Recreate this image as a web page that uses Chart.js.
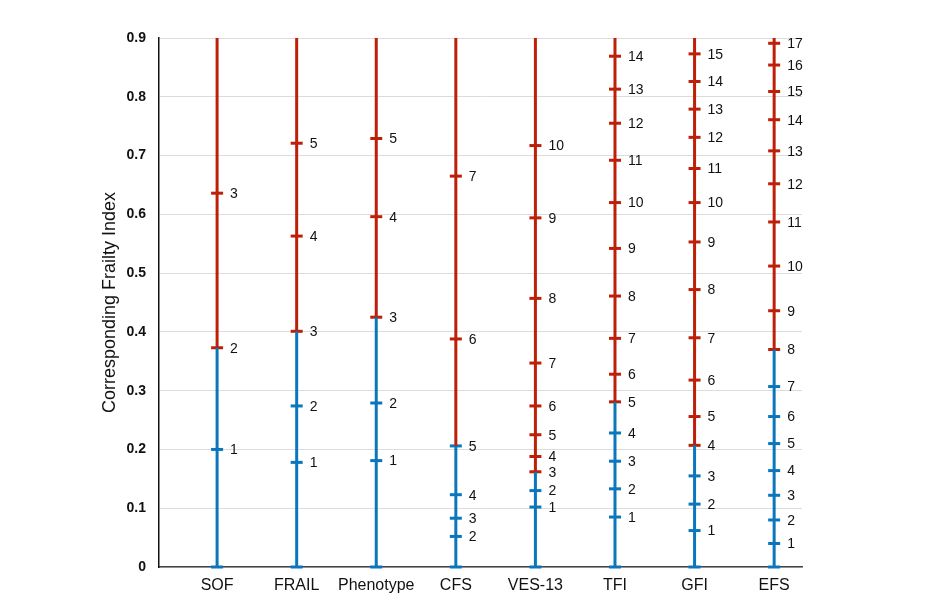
<!DOCTYPE html>
<html>
<head>
<meta charset="utf-8">
<script src="https://cdn.jsdelivr.net/npm/chart.js@4.4.0/dist/chart.umd.min.js"></script>
<style>
  html, body { margin: 0; padding: 0; background: #fff; }
  #wrap { width: 936px; height: 600px; }
</style>
</head>
<body>
<div id="wrap"><canvas id="chart" width="936" height="600"></canvas></div>
<script>
const categories = ['SOF', 'FRAIL', 'Phenotype', 'CFS', 'VES-13', 'TFI', 'GFI', 'EFS'];

// frailty index value for each score, listed from the first labelled score up
const firstScore = [1, 1, 1, 2, 1, 1, 1, 1];
const sofValues = [0.200, 0.373, 0.636];
const frailValues = [0.178, 0.274, 0.401, 0.563, 0.721];
const phenotypeValues = [0.181, 0.279, 0.425, 0.596, 0.729];
const cfsValues = [0.052, 0.083, 0.123, 0.206, 0.388, 0.665];
const ves13Values = [0.102, 0.130, 0.162, 0.188, 0.225, 0.274, 0.347, 0.457, 0.594, 0.717];
const tfiValues = [0.085, 0.133, 0.180, 0.228, 0.281, 0.328, 0.389, 0.461, 0.542, 0.620, 0.692, 0.755, 0.813, 0.869];
const gfiValues = [0.062, 0.107, 0.155, 0.207, 0.256, 0.318, 0.390, 0.472, 0.553, 0.620, 0.678, 0.731, 0.779, 0.826, 0.873];
const efsValues = [0.040, 0.080, 0.122, 0.164, 0.210, 0.256, 0.307, 0.370, 0.436, 0.512, 0.587, 0.652, 0.708, 0.761, 0.809, 0.854, 0.891];
const allValues = [sofValues, frailValues, phenotypeValues, cfsValues, ves13Values, tfiValues, gfiValues, efsValues];

// score where the line turns from blue to red, and whether that score's mark is red
const cutoffScore = [2, 3, 3, 5, 3, 5, 4, 8];
const cutoffMarkRed = [true, true, true, false, true, true, true, true];

const yTicks = [0, 0.1, 0.2, 0.3, 0.4, 0.5, 0.6, 0.7, 0.8, 0.9];
const yMax = 0.9;

const BLUE = '#0a77bd';
const RED = '#bd1f08';

const datasets = [];
categories.forEach((name, i) => {
  const x = i + 1;
  const vals = allValues[i];
  const cutVal = vals[cutoffScore[i] - firstScore[i]];

  datasets.push({
    type: 'line', showLine: true, borderColor: BLUE, borderWidth: 3, pointRadius: 0,
    data: [{ x: x, y: 0 }, { x: x, y: cutVal }]
  });
  datasets.push({
    type: 'line', showLine: true, borderColor: RED, borderWidth: 3, pointRadius: 0,
    data: [{ x: x, y: cutVal }, { x: x, y: yMax }]
  });

  const pts = [{ x: x, y: 0 }];
  const colors = [BLUE];
  const labels = [''];
  vals.forEach((v, k) => {
    const score = firstScore[i] + k;
    pts.push({ x: x, y: v });
    labels.push(String(score));
    let red = score > cutoffScore[i] || (score === cutoffScore[i] && cutoffMarkRed[i]);
    colors.push(red ? RED : BLUE);
  });
  datasets.push({
    type: 'scatter', isMarks: true, scoreLabels: labels, clip: false,
    data: pts, pointStyle: 'line', pointRadius: 6, pointBorderWidth: 3,
    pointBorderColor: colors, pointBackgroundColor: colors
  });
});

const scoreLabelPlugin = {
  id: 'scoreLabels',
  afterDatasetsDraw(chart) {
    const ctx = chart.ctx;
    ctx.save();
    ctx.font = '14px "Liberation Sans", Arial, sans-serif';
    ctx.fillStyle = '#111';
    ctx.textAlign = 'left';
    ctx.textBaseline = 'middle';
    chart.data.datasets.forEach((ds, di) => {
      if (!ds.isMarks) return;
      const meta = chart.getDatasetMeta(di);
      meta.data.forEach((pt, k) => {
        const txt = ds.scoreLabels[k];
        if (txt) ctx.fillText(txt, pt.x + 13, pt.y + 1);
      });
    });
    ctx.restore();
  }
};

new Chart(document.getElementById('chart'), {
  type: 'scatter',
  data: { datasets: datasets },
  plugins: [scoreLabelPlugin],
  options: {
    responsive: false,
    animation: false,
    layout: { padding: { top: 38, right: 134, bottom: 0, left: 0 } },
    plugins: { legend: { display: false }, tooltip: { enabled: false } },
    scales: {
      x: {
        type: 'linear', min: 0.27, max: 8.35,
        afterBuildTicks: (scale) => { scale.ticks = categories.map((c, i) => ({ value: i + 1 })); },
        afterFit: (scale) => { scale.height = 33; },
        grid: { display: false, drawTicks: false },
        border: { display: true, color: '#444', width: 1.5 },
        ticks: {
          padding: 9, color: '#111', autoSkip: false, maxRotation: 0,
          font: { family: '"Liberation Sans", Arial, sans-serif', size: 16 },
          callback: (v) => categories[v - 1] || ''
        }
      },
      y: {
        min: 0, max: yMax,
        afterBuildTicks: (scale) => { scale.ticks = yTicks.map(v => ({ value: v })); },
        afterFit: (scale) => { scale.width = 159; },
        grid: { color: '#dcdcdc', lineWidth: 1, drawTicks: false },
        border: { display: true, color: '#111', width: 1.5 },
        ticks: {
          padding: 13, color: '#111',
          font: { family: '"Liberation Sans", Arial, sans-serif', size: 14, weight: 'bold' },
          callback: (v) => String(Math.round(v * 10) / 10)
        },
        title: {
          display: true, text: 'Corresponding Frailty Index', color: '#111',
          font: { family: '"Liberation Sans", Arial, sans-serif', size: 18 },
          padding: { top: 99, bottom: 0 }
        }
      }
    }
  }
});
</script>
</body>
</html>
